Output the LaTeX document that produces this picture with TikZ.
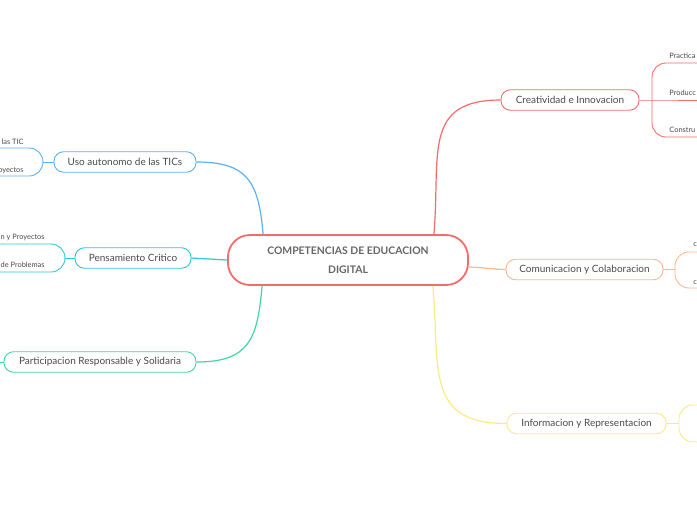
\documentclass[tikz,border=0pt]{standalone}
\usepackage{fontspec}
\setmainfont{Lato}
\usepackage{tikz}
\usetikzlibrary{arrows,positioning}
\definecolor{cred}{HTML}{F46C6A}
\definecolor{cblue}{HTML}{5DB0F2}
\definecolor{ccyan}{HTML}{2BC8D8}
\definecolor{cgreen}{HTML}{3ED7A5}
\definecolor{corange}{HTML}{FFB68E}
\definecolor{cyellow}{HTML}{FBEB86}
\definecolor{ctext}{HTML}{4A4A4A}

\begin{document}
\begin{tikzpicture}[x=1pt,y=-1pt,-,line width=0.9pt,
  main node/.style={draw=cred,line width=1.8pt,rounded corners=22pt,fill=white,
    minimum width=240pt,minimum height=50pt,align=center,text=ctext!85,
    font=\fontsize{10.4}{19}\selectfont\bfseries},
  topic node/.style={draw,rounded corners=9.5pt,fill=white,minimum height=20.5pt,
    inner sep=0pt,text=ctext,font=\fontsize{10}{11}\selectfont},
  sub node/.style={inner sep=0pt,text=ctext,font=\fontsize{7.4}{8}\selectfont},
  branch/.style={rounded corners=14pt}]
  \useasboundingbox (0,0) rectangle (697,520);
  \clip (0,0) rectangle (697,520);
  \fill[white] (0,0) rectangle (697,520);

  % central topic
  \node[main node] (main) at (348,260) {\raisebox{-2.5pt}{COMPETENCIAS DE EDUCACION}\\\raisebox{-2.5pt}{DIGITAL}};

  % left side
  \node[topic node,draw=cblue,minimum width=142pt] (uso) at (125,162) {Uso autonomo de las TICs};
  \node[topic node,draw=ccyan,minimum width=116pt] (pens) at (133,258) {Pensamiento Critico};
  \node[topic node,draw=cgreen,minimum width=192pt] (part) at (100,362) {Participacion Responsable y Solidaria};

  % right side
  \node[topic node,draw=cred,minimum width=138pt] (crea) at (570,100) {Creatividad e Innovacion};
  \node[topic node,draw=corange,minimum width=157pt] (comu) at (584.5,269.5) {Comunicacion y Colaboracion};
  \node[topic node,draw=cyellow,minimum width=159pt] (info) at (586.5,423.5) {Informacion y Representacion};

  % subtopics
  \node[sub node,anchor=base east] (uso1) at (24,144) {las TIC};
  \node[sub node,anchor=base east] (uso2) at (24,172) {oyectos};
  \node[sub node,anchor=base east] (pens1) at (45,239) {n y Proyectos};
  \node[sub node,anchor=base east] (pens2) at (45,267) {de Problemas};
  \node[sub node,anchor=base west] (crea1) at (669,58) {Practica};
  \node[sub node,anchor=base west] (crea2) at (669,95) {Producc};
  \node[sub node,anchor=base west] (crea3) at (669,132) {Constru};
  \node[sub node,anchor=base west] (comu1) at (693,246) {c};
  \node[sub node,anchor=base west] (comu2) at (693,284) {c};

  \coordinate (uso-j) at (43,162);
  \coordinate (pens-j) at (65,258);
  \coordinate (part-j) at (-5,362);
  \coordinate (crea-j) at (652,100);
  \coordinate (comu-j) at (675,269.5);
  \coordinate (info-j) at (679,423.5);

  % main branches
  \path[line width=1.2pt]
    ([xshift=36pt]main.north west) edge[cblue,out=95,in=0,looseness=1.35] (uso.east)
    (main.west) edge[ccyan] (pens.east)
    ([xshift=35pt]main.south west) edge[cgreen,out=-95,in=0,looseness=1.35] (part.east)
    ([xshift=-35pt]main.north east) edge[cred,out=85,in=180,looseness=1.35] (crea.west)
    ([yshift=-7pt]main.east) edge[corange,out=0,in=180,looseness=0.5] (comu.west)
    ([xshift=-36pt]main.south east) edge[cyellow,out=-85,in=180,looseness=1.35] (info.west);

  % sub branches
  \draw[cblue] (uso.west) -- (uso-j);
  \draw[cblue,branch] (uso-j) |- (-5,148) (uso-j) |- (-5,176);
  \draw[ccyan] (pens.west) -- (pens-j);
  \draw[ccyan,branch] (pens-j) |- (-5,244) (pens-j) |- (-5,272);
  \draw[cgreen] (part.west) -- (part-j);
  \draw[cred] (crea.east) -- (crea-j) -- (705,100);
  \draw[cred,branch] (crea-j) |- (705,63) (crea-j) |- (705,137);
  \draw[corange] (comu.east) -- (comu-j);
  \draw[corange,branch] (comu-j) |- (705,252) (comu-j) |- (705,288);
  \draw[cyellow] (info.east) -- (info-j);
  \draw[cyellow,branch] (info-j) |- (705,405) (info-j) |- (705,442);
\end{tikzpicture}
\end{document}
